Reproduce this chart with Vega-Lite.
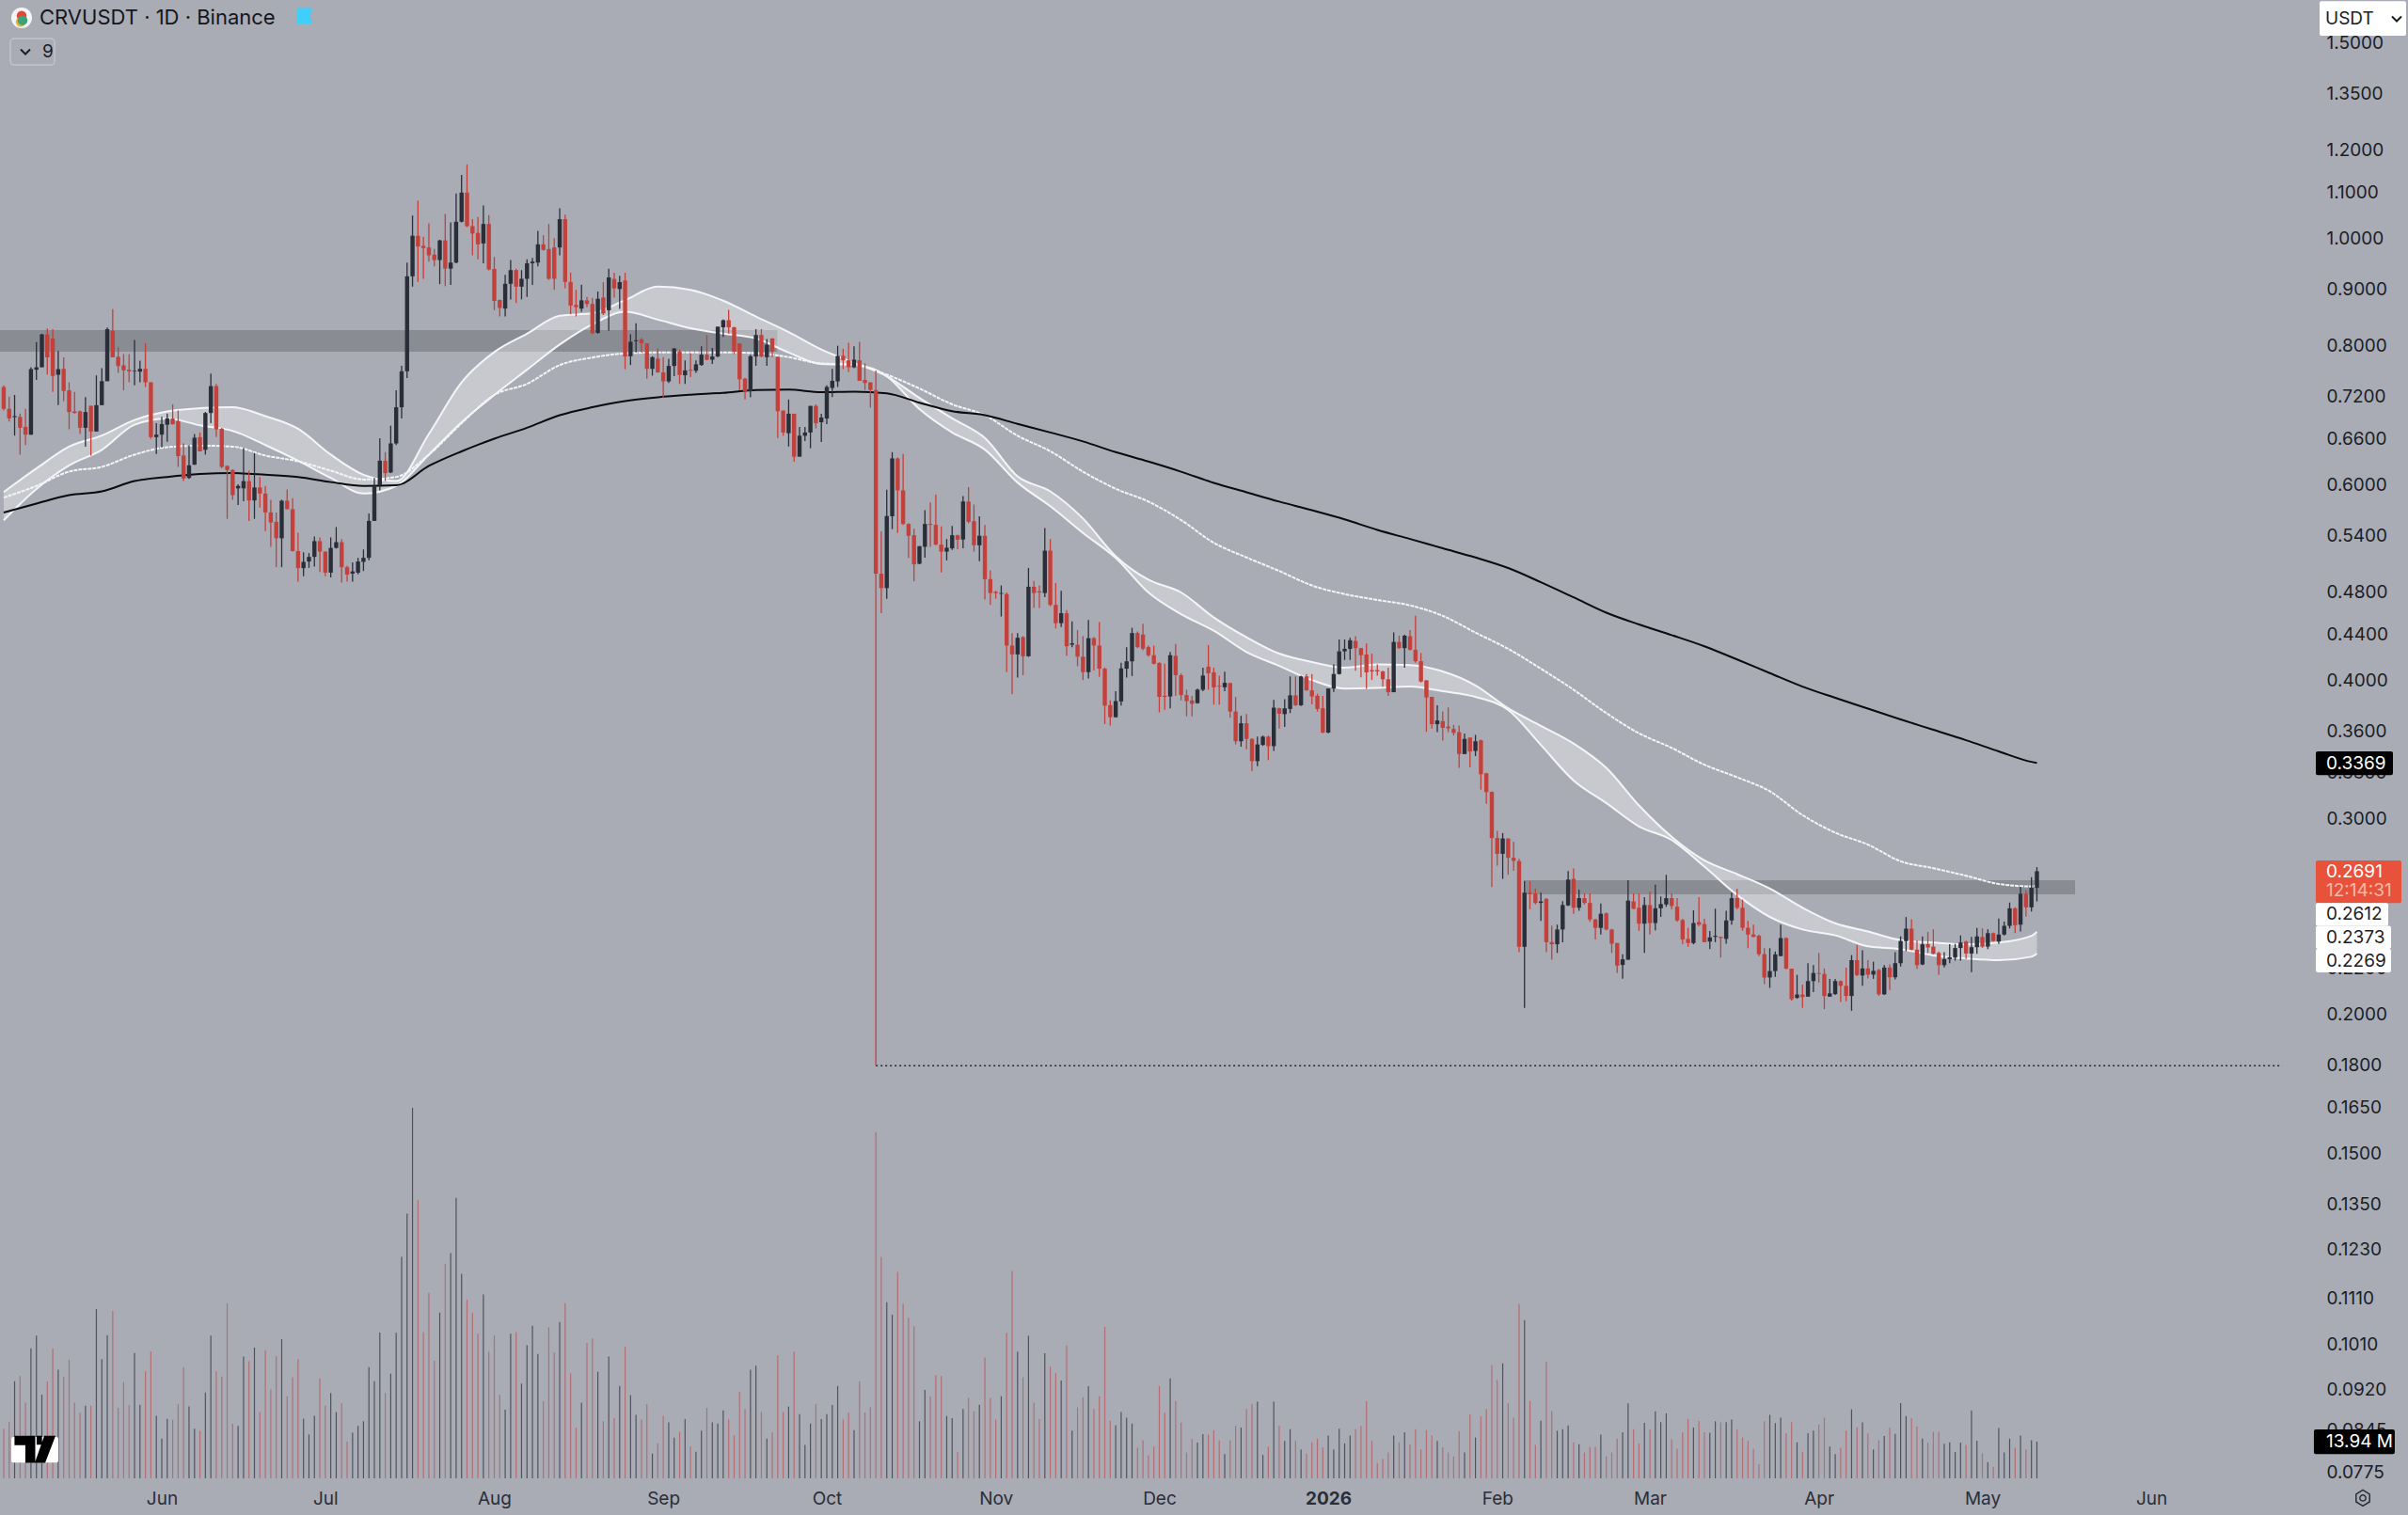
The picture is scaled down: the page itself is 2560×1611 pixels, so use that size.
{"$schema":"https://vega.github.io/schema/vega-lite/v6.json","width":2560,"height":1611,"autosize":"none","padding":0,"background":"#a9acb5","config":{"view":{"stroke":null},"font":"Inter","text":{"font":"Inter"}},
"datasets":{"candles":[
{"d":"2025-05-03","o":0.7341,"h":0.7366,"l":0.6994,"c":0.7017,"v":18.9},
{"d":"2025-05-04","o":0.7017,"h":0.7199,"l":0.6834,"c":0.688,"v":21.4},
{"d":"2025-05-05","o":0.6898,"h":0.7222,"l":0.6639,"c":0.6912,"v":36.9},
{"d":"2025-05-06","o":0.6902,"h":0.6948,"l":0.6382,"c":0.6747,"v":38.9},
{"d":"2025-05-07","o":0.676,"h":0.7017,"l":0.651,"c":0.6652,"v":28.8},
{"d":"2025-05-08","o":0.6652,"h":0.7649,"l":0.6652,"c":0.7619,"v":49.4},
{"d":"2025-05-09","o":0.761,"h":0.8058,"l":0.745,"c":0.7649,"v":54.2},
{"d":"2025-05-10","o":0.7649,"h":0.8199,"l":0.7649,"c":0.8188,"v":31.8},
{"d":"2025-05-11","o":0.8188,"h":0.8288,"l":0.7536,"c":0.7808,"v":36.8},
{"d":"2025-05-12","o":0.8121,"h":0.8277,"l":0.7268,"c":0.7512,"v":49.3},
{"d":"2025-05-13","o":0.7531,"h":0.7912,"l":0.7071,"c":0.7619,"v":41.3},
{"d":"2025-05-14","o":0.7624,"h":0.7808,"l":0.7131,"c":0.7283,"v":38.7},
{"d":"2025-05-15","o":0.7292,"h":0.7414,"l":0.6725,"c":0.6971,"v":45.1},
{"d":"2025-05-16","o":0.698,"h":0.7268,"l":0.6948,"c":0.6957,"v":28.8},
{"d":"2025-05-17","o":0.698,"h":0.6994,"l":0.6661,"c":0.6747,"v":25},
{"d":"2025-05-18","o":0.6747,"h":0.719,"l":0.6489,"c":0.6971,"v":27.6},
{"d":"2025-05-19","o":0.7062,"h":0.7062,"l":0.637,"c":0.6695,"v":27.6},
{"d":"2025-05-20","o":0.6695,"h":0.7521,"l":0.6695,"c":0.7071,"v":64.3},
{"d":"2025-05-21","o":0.7071,"h":0.7634,"l":0.7071,"c":0.7431,"v":45.3},
{"d":"2025-05-22","o":0.7431,"h":0.8305,"l":0.7431,"c":0.8277,"v":54.4},
{"d":"2025-05-23","o":0.8251,"h":0.8627,"l":0.7808,"c":0.7808,"v":63.6},
{"d":"2025-05-24","o":0.7818,"h":0.7975,"l":0.756,"c":0.7668,"v":26.8},
{"d":"2025-05-25","o":0.7678,"h":0.786,"l":0.7292,"c":0.76,"v":36.6},
{"d":"2025-05-26","o":0.761,"h":0.786,"l":0.7414,"c":0.7585,"v":27.9},
{"d":"2025-05-27","o":0.7585,"h":0.8095,"l":0.7366,"c":0.7595,"v":47.6},
{"d":"2025-05-28","o":0.758,"h":0.7756,"l":0.7414,"c":0.7624,"v":28},
{"d":"2025-05-29","o":0.7624,"h":0.8043,"l":0.7341,"c":0.7414,"v":40.7},
{"d":"2025-05-30","o":0.7414,"h":0.7414,"l":0.6596,"c":0.6618,"v":48.2},
{"d":"2025-05-31","o":0.6618,"h":0.6811,"l":0.6391,"c":0.6652,"v":23.8},
{"d":"2025-06-01","o":0.6652,"h":0.6902,"l":0.6477,"c":0.6798,"v":15.1},
{"d":"2025-06-02","o":0.679,"h":0.6948,"l":0.6553,"c":0.688,"v":22.6},
{"d":"2025-06-03","o":0.688,"h":0.7085,"l":0.679,"c":0.6798,"v":22.3},
{"d":"2025-06-04","o":0.6843,"h":0.6994,"l":0.6222,"c":0.6362,"v":28.2},
{"d":"2025-06-05","o":0.637,"h":0.6532,"l":0.6041,"c":0.6073,"v":42.3},
{"d":"2025-06-06","o":0.6081,"h":0.651,"l":0.6069,"c":0.6242,"v":27.3},
{"d":"2025-06-07","o":0.625,"h":0.6661,"l":0.625,"c":0.661,"v":18.9},
{"d":"2025-06-08","o":0.6618,"h":0.6682,"l":0.6425,"c":0.6425,"v":18.1},
{"d":"2025-06-09","o":0.6446,"h":0.6971,"l":0.6382,"c":0.6957,"v":32.6},
{"d":"2025-06-10","o":0.6957,"h":0.7551,"l":0.6811,"c":0.7356,"v":54.2},
{"d":"2025-06-11","o":0.7356,"h":0.739,"l":0.6618,"c":0.6725,"v":40.7},
{"d":"2025-06-12","o":0.6734,"h":0.6747,"l":0.6202,"c":0.6222,"v":38.7},
{"d":"2025-06-13","o":0.6234,"h":0.6242,"l":0.5587,"c":0.6182,"v":66.6},
{"d":"2025-06-14","o":0.6182,"h":0.619,"l":0.5812,"c":0.5868,"v":20.7},
{"d":"2025-06-15","o":0.5951,"h":0.6001,"l":0.5748,"c":0.5981,"v":19.9},
{"d":"2025-06-16","o":0.5951,"h":0.6468,"l":0.5793,"c":0.6041,"v":46.3},
{"d":"2025-06-17","o":0.6041,"h":0.6174,"l":0.5563,"c":0.5804,"v":44.5},
{"d":"2025-06-18","o":0.5804,"h":0.6403,"l":0.5587,"c":0.5962,"v":49.7},
{"d":"2025-06-19","o":0.5962,"h":0.6093,"l":0.5718,"c":0.5887,"v":25.2},
{"d":"2025-06-20","o":0.5887,"h":0.5981,"l":0.5447,"c":0.5661,"v":48.7},
{"d":"2025-06-21","o":0.5661,"h":0.5812,"l":0.5271,"c":0.5545,"v":33.8},
{"d":"2025-06-22","o":0.5552,"h":0.5661,"l":0.5054,"c":0.5366,"v":46.4},
{"d":"2025-06-23","o":0.5366,"h":0.5812,"l":0.5054,"c":0.58,"v":52.9},
{"d":"2025-06-24","o":0.58,"h":0.5936,"l":0.5699,"c":0.5699,"v":31.2},
{"d":"2025-06-25","o":0.5699,"h":0.583,"l":0.522,"c":0.5226,"v":38.4},
{"d":"2025-06-26","o":0.5226,"h":0.5429,"l":0.4905,"c":0.5044,"v":45.3},
{"d":"2025-06-27","o":0.5044,"h":0.5213,"l":0.4961,"c":0.511,"v":22.6},
{"d":"2025-06-28","o":0.5114,"h":0.5203,"l":0.5047,"c":0.5163,"v":16.7},
{"d":"2025-06-29","o":0.5163,"h":0.5387,"l":0.506,"c":0.5334,"v":23.8},
{"d":"2025-06-30","o":0.5334,"h":0.5376,"l":0.5004,"c":0.522,"v":38},
{"d":"2025-07-01","o":0.522,"h":0.522,"l":0.4961,"c":0.4997,"v":27.6},
{"d":"2025-07-02","o":0.4997,"h":0.5376,"l":0.4948,"c":0.526,"v":32.4},
{"d":"2025-07-03","o":0.526,"h":0.5492,"l":0.5253,"c":0.5323,"v":25.2},
{"d":"2025-07-04","o":0.5323,"h":0.5358,"l":0.4895,"c":0.5054,"v":28.5},
{"d":"2025-07-05","o":0.5054,"h":0.507,"l":0.4905,"c":0.4977,"v":13.9},
{"d":"2025-07-06","o":0.4987,"h":0.5104,"l":0.4905,"c":0.501,"v":17.3},
{"d":"2025-07-07","o":0.4997,"h":0.5153,"l":0.498,"c":0.5114,"v":19.9},
{"d":"2025-07-08","o":0.511,"h":0.5243,"l":0.5014,"c":0.5153,"v":21.7},
{"d":"2025-07-09","o":0.5153,"h":0.565,"l":0.5127,"c":0.5563,"v":42.3},
{"d":"2025-07-10","o":0.5563,"h":0.6081,"l":0.5563,"c":0.5981,"v":36.9},
{"d":"2025-07-11","o":0.5989,"h":0.6604,"l":0.5925,"c":0.6302,"v":55.4},
{"d":"2025-07-12","o":0.6302,"h":0.6416,"l":0.6041,"c":0.6142,"v":32.4},
{"d":"2025-07-13","o":0.615,"h":0.6777,"l":0.6142,"c":0.6532,"v":39.8},
{"d":"2025-07-14","o":0.6532,"h":0.7292,"l":0.651,"c":0.704,"v":55.3},
{"d":"2025-07-15","o":0.704,"h":0.7673,"l":0.688,"c":0.7585,"v":84.2},
{"d":"2025-07-16","o":0.7585,"h":0.9502,"l":0.7478,"c":0.9236,"v":100.6},
{"d":"2025-07-17","o":0.9236,"h":1.0477,"l":0.904,"c":1.0045,"v":140.8},
{"d":"2025-07-18","o":1.0045,"h":1.0806,"l":0.9129,"c":0.9824,"v":105.9},
{"d":"2025-07-19","o":0.9837,"h":1.0026,"l":0.9188,"c":0.9793,"v":55.6},
{"d":"2025-07-20","o":0.9805,"h":1.0308,"l":0.9521,"c":0.9647,"v":70.5},
{"d":"2025-07-21","o":0.966,"h":0.9773,"l":0.9426,"c":0.9552,"v":44.7},
{"d":"2025-07-22","o":0.9552,"h":0.9963,"l":0.9087,"c":0.995,"v":63},
{"d":"2025-07-23","o":0.995,"h":1.0511,"l":0.9052,"c":0.9384,"v":81.6},
{"d":"2025-07-24","o":0.9384,"h":1.0328,"l":0.907,"c":0.9502,"v":85.6},
{"d":"2025-07-25","o":0.9502,"h":1.0965,"l":0.9489,"c":1.0342,"v":106.6},
{"d":"2025-07-26","o":1.0342,"h":1.1397,"l":1.0328,"c":1.0986,"v":77.7},
{"d":"2025-07-27","o":1.0986,"h":1.1648,"l":1.0227,"c":1.0247,"v":67.9},
{"d":"2025-07-28","o":1.0247,"h":1.0396,"l":0.9647,"c":1.0092,"v":63},
{"d":"2025-07-29","o":1.0105,"h":1.0443,"l":0.9565,"c":0.9868,"v":55},
{"d":"2025-07-30","o":0.9887,"h":1.0698,"l":0.9489,"c":1.0294,"v":69.9},
{"d":"2025-07-31","o":1.0294,"h":1.0484,"l":0.9349,"c":0.9367,"v":48.2},
{"d":"2025-08-01","o":0.9378,"h":0.9615,"l":0.861,"c":0.8776,"v":54.2},
{"d":"2025-08-02","o":0.8793,"h":0.8804,"l":0.8499,"c":0.8649,"v":31.8},
{"d":"2025-08-03","o":0.8638,"h":0.9266,"l":0.8499,"c":0.9093,"v":26.1},
{"d":"2025-08-04","o":0.9093,"h":0.9552,"l":0.8804,"c":0.9355,"v":55},
{"d":"2025-08-05","o":0.9355,"h":0.9384,"l":0.8737,"c":0.904,"v":55.6},
{"d":"2025-08-06","o":0.904,"h":0.9355,"l":0.8804,"c":0.9188,"v":36},
{"d":"2025-08-07","o":0.9188,"h":0.9565,"l":0.885,"c":0.9489,"v":50.6},
{"d":"2025-08-08","o":0.9489,"h":0.9597,"l":0.907,"c":0.9521,"v":58},
{"d":"2025-08-09","o":0.9502,"h":1.0146,"l":0.9426,"c":0.9868,"v":47.3},
{"d":"2025-08-10","o":0.9868,"h":1.0058,"l":0.9741,"c":0.9754,"v":29.4},
{"d":"2025-08-11","o":0.9773,"h":1.0294,"l":0.917,"c":0.9188,"v":57.4},
{"d":"2025-08-12","o":0.9805,"h":0.9995,"l":0.898,"c":0.9188,"v":47.9},
{"d":"2025-08-13","o":0.9805,"h":1.0633,"l":0.9647,"c":1.0396,"v":59.4},
{"d":"2025-08-14","o":1.0396,"h":1.0497,"l":0.9011,"c":0.9129,"v":66.6},
{"d":"2025-08-15","o":0.9129,"h":0.9307,"l":0.8538,"c":0.8693,"v":39.9},
{"d":"2025-08-16","o":0.8704,"h":0.898,"l":0.8499,"c":0.8665,"v":19.3},
{"d":"2025-08-17","o":0.8638,"h":0.9076,"l":0.8582,"c":0.8787,"v":28.8},
{"d":"2025-08-18","o":0.8787,"h":0.885,"l":0.8665,"c":0.8721,"v":51.5},
{"d":"2025-08-19","o":0.8721,"h":0.8832,"l":0.8188,"c":0.8209,"v":53.2},
{"d":"2025-08-20","o":0.8214,"h":0.895,"l":0.8199,"c":0.8815,"v":40.5},
{"d":"2025-08-21","o":0.8838,"h":0.9125,"l":0.8524,"c":0.8551,"v":21.7},
{"d":"2025-08-22","o":0.8608,"h":0.938,"l":0.8248,"c":0.9215,"v":46.3},
{"d":"2025-08-23","o":0.9185,"h":0.9304,"l":0.8838,"c":0.9007,"v":22.9},
{"d":"2025-08-24","o":0.8996,"h":0.9245,"l":0.8634,"c":0.9125,"v":35.1},
{"d":"2025-08-25","o":0.9155,"h":0.9304,"l":0.7619,"c":0.7821,"v":50},
{"d":"2025-08-26","o":0.7826,"h":0.8192,"l":0.7685,"c":0.8064,"v":31.6},
{"d":"2025-08-27","o":0.8074,"h":0.8378,"l":0.7887,"c":0.8089,"v":24.1},
{"d":"2025-08-28","o":0.8104,"h":0.8129,"l":0.7887,"c":0.8038,"v":22.3},
{"d":"2025-08-29","o":0.8038,"h":0.8038,"l":0.747,"c":0.7624,"v":28.2},
{"d":"2025-08-30","o":0.7624,"h":0.7826,"l":0.7518,"c":0.7811,"v":9.4},
{"d":"2025-08-31","o":0.7786,"h":0.7952,"l":0.7559,"c":0.7569,"v":13.3},
{"d":"2025-09-01","o":0.7569,"h":0.7811,"l":0.7178,"c":0.7428,"v":23.7},
{"d":"2025-09-02","o":0.7428,"h":0.7786,"l":0.7404,"c":0.767,"v":21.3},
{"d":"2025-09-03","o":0.767,"h":0.7962,"l":0.7508,"c":0.7952,"v":15.5},
{"d":"2025-09-04","o":0.7901,"h":0.7937,"l":0.739,"c":0.7528,"v":17.7},
{"d":"2025-09-05","o":0.7523,"h":0.776,"l":0.739,"c":0.7599,"v":22.5},
{"d":"2025-09-06","o":0.7609,"h":0.7871,"l":0.7494,"c":0.7594,"v":12.1},
{"d":"2025-09-07","o":0.7594,"h":0.776,"l":0.7559,"c":0.7695,"v":10.1},
{"d":"2025-09-08","o":0.7685,"h":0.7987,"l":0.767,"c":0.7851,"v":18.1},
{"d":"2025-09-09","o":0.7851,"h":0.8178,"l":0.776,"c":0.777,"v":26.8},
{"d":"2025-09-10","o":0.777,"h":0.7962,"l":0.77,"c":0.7821,"v":21.3},
{"d":"2025-09-11","o":0.7821,"h":0.832,"l":0.7811,"c":0.832,"v":20.8},
{"d":"2025-09-12","o":0.8309,"h":0.8443,"l":0.8146,"c":0.8433,"v":25.8},
{"d":"2025-09-13","o":0.8433,"h":0.8615,"l":0.8201,"c":0.8309,"v":22.3},
{"d":"2025-09-14","o":0.8309,"h":0.832,"l":0.7861,"c":0.7901,"v":16.3},
{"d":"2025-09-15","o":0.8038,"h":0.8038,"l":0.7297,"c":0.746,"v":33},
{"d":"2025-09-16","o":0.747,"h":0.7484,"l":0.7154,"c":0.7277,"v":26.4},
{"d":"2025-09-17","o":0.7277,"h":0.7851,"l":0.7187,"c":0.7826,"v":41.3},
{"d":"2025-09-18","o":0.7821,"h":0.8279,"l":0.767,"c":0.8178,"v":42.8},
{"d":"2025-09-19","o":0.8178,"h":0.8279,"l":0.7811,"c":0.7821,"v":25.2},
{"d":"2025-09-20","o":0.7811,"h":0.811,"l":0.767,"c":0.8013,"v":15.1},
{"d":"2025-09-21","o":0.812,"h":0.812,"l":0.7811,"c":0.7901,"v":17.5},
{"d":"2025-09-22","o":0.7811,"h":0.7821,"l":0.6606,"c":0.6983,"v":46.7},
{"d":"2025-09-23","o":0.6992,"h":0.6992,"l":0.6637,"c":0.6682,"v":25.2},
{"d":"2025-09-24","o":0.6672,"h":0.7154,"l":0.649,"c":0.6947,"v":27.3},
{"d":"2025-09-25","o":0.6947,"h":0.6947,"l":0.629,"c":0.6355,"v":48.2},
{"d":"2025-09-26","o":0.6355,"h":0.676,"l":0.6355,"c":0.6637,"v":24.4},
{"d":"2025-09-27","o":0.6637,"h":0.676,"l":0.6563,"c":0.6682,"v":12.7},
{"d":"2025-09-28","o":0.6682,"h":0.706,"l":0.6467,"c":0.706,"v":20.8},
{"d":"2025-09-29","o":0.706,"h":0.7082,"l":0.6738,"c":0.681,"v":28.2},
{"d":"2025-09-30","o":0.6825,"h":0.6947,"l":0.6551,"c":0.6892,"v":22.5},
{"d":"2025-10-01","o":0.6878,"h":0.7367,"l":0.68,"c":0.7343,"v":24.4},
{"d":"2025-10-02","o":0.7328,"h":0.7624,"l":0.7192,"c":0.7437,"v":27.9},
{"d":"2025-10-03","o":0.7428,"h":0.7998,"l":0.7343,"c":0.7831,"v":35.1},
{"d":"2025-10-04","o":0.7831,"h":0.7947,"l":0.7619,"c":0.776,"v":22.3},
{"d":"2025-10-05","o":0.776,"h":0.8049,"l":0.7574,"c":0.7649,"v":25},
{"d":"2025-10-06","o":0.7649,"h":0.7987,"l":0.7634,"c":0.777,"v":18.3},
{"d":"2025-10-07","o":0.776,"h":0.8064,"l":0.7437,"c":0.7437,"v":36.8},
{"d":"2025-10-08","o":0.745,"h":0.771,"l":0.7297,"c":0.7404,"v":25},
{"d":"2025-10-09","o":0.7413,"h":0.7413,"l":0.7036,"c":0.7297,"v":27},
{"d":"2025-10-10","o":0.7297,"h":0.7597,"l":0.1798,"c":0.4986,"v":131.6},
{"d":"2025-10-11","o":0.4986,"h":0.5444,"l":0.4594,"c":0.484,"v":84.2},
{"d":"2025-10-12","o":0.484,"h":0.5934,"l":0.4734,"c":0.5619,"v":66.9},
{"d":"2025-10-13","o":0.5616,"h":0.6415,"l":0.5469,"c":0.6332,"v":62.2},
{"d":"2025-10-14","o":0.6332,"h":0.6345,"l":0.5426,"c":0.5926,"v":78.5},
{"d":"2025-10-15","o":0.5926,"h":0.639,"l":0.5517,"c":0.5528,"v":66.3},
{"d":"2025-10-16","o":0.5528,"h":0.5535,"l":0.5152,"c":0.5394,"v":61},
{"d":"2025-10-17","o":0.54,"h":0.5473,"l":0.4907,"c":0.5084,"v":57.8},
{"d":"2025-10-18","o":0.509,"h":0.5279,"l":0.5084,"c":0.5279,"v":21.7},
{"d":"2025-10-19","o":0.5272,"h":0.5687,"l":0.5154,"c":0.5528,"v":33.6},
{"d":"2025-10-20","o":0.5528,"h":0.5779,"l":0.5272,"c":0.5517,"v":31.2},
{"d":"2025-10-21","o":0.5517,"h":0.5876,"l":0.5289,"c":0.5296,"v":39.2},
{"d":"2025-10-22","o":0.5296,"h":0.5499,"l":0.4998,"c":0.522,"v":38.9},
{"d":"2025-10-23","o":0.522,"h":0.5358,"l":0.5126,"c":0.5262,"v":23.7},
{"d":"2025-10-24","o":0.5255,"h":0.5506,"l":0.5238,"c":0.54,"v":22.9},
{"d":"2025-10-25","o":0.54,"h":0.5408,"l":0.5245,"c":0.5351,"v":10},
{"d":"2025-10-26","o":0.5351,"h":0.5856,"l":0.5255,"c":0.579,"v":26.4},
{"d":"2025-10-27","o":0.579,"h":0.5965,"l":0.5535,"c":0.5552,"v":30.6},
{"d":"2025-10-28","o":0.5559,"h":0.5754,"l":0.522,"c":0.5289,"v":25.5},
{"d":"2025-10-29","o":0.5289,"h":0.5616,"l":0.5118,"c":0.5394,"v":28},
{"d":"2025-10-30","o":0.5394,"h":0.5517,"l":0.4727,"c":0.493,"v":45.9},
{"d":"2025-10-31","o":0.493,"h":0.502,"l":0.4674,"c":0.479,"v":30.6},
{"d":"2025-11-01","o":0.4803,"h":0.4812,"l":0.4734,"c":0.479,"v":22.3},
{"d":"2025-11-02","o":0.4783,"h":0.4866,"l":0.4563,"c":0.479,"v":31.2},
{"d":"2025-11-03","o":0.478,"h":0.4796,"l":0.4066,"c":0.4296,"v":55.3},
{"d":"2025-11-04","o":0.4296,"h":0.4409,"l":0.3884,"c":0.4218,"v":78.8},
{"d":"2025-11-05","o":0.4218,"h":0.4409,"l":0.4021,"c":0.4366,"v":48.2},
{"d":"2025-11-06","o":0.4372,"h":0.4381,"l":0.404,"c":0.4202,"v":38.4},
{"d":"2025-11-07","o":0.4202,"h":0.5046,"l":0.4197,"c":0.4853,"v":54.2},
{"d":"2025-11-08","o":0.4853,"h":0.4913,"l":0.4645,"c":0.479,"v":28.8},
{"d":"2025-11-09","o":0.4807,"h":0.4866,"l":0.4645,"c":0.4796,"v":22.5},
{"d":"2025-11-10","o":0.479,"h":0.5481,"l":0.475,"c":0.523,"v":47.5},
{"d":"2025-11-11","o":0.523,"h":0.5358,"l":0.466,"c":0.4674,"v":42.5},
{"d":"2025-11-12","o":0.4674,"h":0.4892,"l":0.4451,"c":0.45,"v":39.9},
{"d":"2025-11-13","o":0.45,"h":0.4812,"l":0.4465,"c":0.4594,"v":37.2},
{"d":"2025-11-14","o":0.4594,"h":0.4623,"l":0.4204,"c":0.429,"v":50.5},
{"d":"2025-11-15","o":0.4304,"h":0.4516,"l":0.4282,"c":0.4316,"v":18.1},
{"d":"2025-11-16","o":0.4304,"h":0.4437,"l":0.4116,"c":0.4198,"v":27},
{"d":"2025-11-17","o":0.4198,"h":0.4381,"l":0.3999,"c":0.4066,"v":30.8},
{"d":"2025-11-18","o":0.4066,"h":0.4531,"l":0.4012,"c":0.4362,"v":35},
{"d":"2025-11-19","o":0.4362,"h":0.4375,"l":0.4079,"c":0.4296,"v":26.4},
{"d":"2025-11-20","o":0.4296,"h":0.451,"l":0.4026,"c":0.4095,"v":31.2},
{"d":"2025-11-21","o":0.4095,"h":0.4105,"l":0.3651,"c":0.3793,"v":57.6},
{"d":"2025-11-22","o":0.3797,"h":0.3834,"l":0.364,"c":0.3703,"v":21.9},
{"d":"2025-11-23","o":0.3703,"h":0.3908,"l":0.3703,"c":0.3829,"v":20.2},
{"d":"2025-11-24","o":0.3826,"h":0.4145,"l":0.3793,"c":0.4098,"v":25.2},
{"d":"2025-11-25","o":0.4095,"h":0.4282,"l":0.4021,"c":0.4158,"v":23.1},
{"d":"2025-11-26","o":0.4158,"h":0.4457,"l":0.4033,"c":0.4409,"v":20.8},
{"d":"2025-11-27","o":0.4409,"h":0.4423,"l":0.4273,"c":0.4282,"v":11.6},
{"d":"2025-11-28","o":0.4395,"h":0.4495,"l":0.4254,"c":0.4268,"v":14.5},
{"d":"2025-11-29","o":0.4282,"h":0.4296,"l":0.4198,"c":0.4211,"v":8.8},
{"d":"2025-11-30","o":0.4211,"h":0.4296,"l":0.4131,"c":0.4137,"v":12.1},
{"d":"2025-12-01","o":0.4144,"h":0.415,"l":0.3741,"c":0.3863,"v":35.1},
{"d":"2025-12-02","o":0.3871,"h":0.4137,"l":0.376,"c":0.3863,"v":25},
{"d":"2025-12-03","o":0.3866,"h":0.424,"l":0.3772,"c":0.4211,"v":38},
{"d":"2025-12-04","o":0.4206,"h":0.431,"l":0.3871,"c":0.404,"v":29.4},
{"d":"2025-12-05","o":0.404,"h":0.4053,"l":0.3834,"c":0.3877,"v":21.2},
{"d":"2025-12-06","o":0.3877,"h":0.3921,"l":0.371,"c":0.3829,"v":9.8},
{"d":"2025-12-07","o":0.3834,"h":0.3871,"l":0.371,"c":0.3808,"v":14.9},
{"d":"2025-12-08","o":0.3813,"h":0.3929,"l":0.3808,"c":0.3921,"v":13.6},
{"d":"2025-12-09","o":0.392,"h":0.4104,"l":0.3908,"c":0.4037,"v":16.8},
{"d":"2025-12-10","o":0.4112,"h":0.4301,"l":0.392,"c":0.4056,"v":16.6},
{"d":"2025-12-11","o":0.4064,"h":0.4104,"l":0.3801,"c":0.394,"v":18.3},
{"d":"2025-12-12","o":0.3952,"h":0.4037,"l":0.3801,"c":0.3945,"v":14.5},
{"d":"2025-12-13","o":0.394,"h":0.4069,"l":0.3908,"c":0.3977,"v":9.2},
{"d":"2025-12-14","o":0.3975,"h":0.3977,"l":0.3698,"c":0.3747,"v":14.5},
{"d":"2025-12-15","o":0.3747,"h":0.3863,"l":0.35,"c":0.3523,"v":19.9},
{"d":"2025-12-16","o":0.3523,"h":0.3714,"l":0.3484,"c":0.3657,"v":19.3},
{"d":"2025-12-17","o":0.3657,"h":0.3727,"l":0.3465,"c":0.354,"v":26.4},
{"d":"2025-12-18","o":0.354,"h":0.3546,"l":0.3312,"c":0.3381,"v":28.2},
{"d":"2025-12-19","o":0.3381,"h":0.3557,"l":0.3345,"c":0.35,"v":29.1},
{"d":"2025-12-20","o":0.3496,"h":0.3565,"l":0.349,"c":0.3557,"v":8.9},
{"d":"2025-12-21","o":0.3557,"h":0.3565,"l":0.3388,"c":0.3488,"v":12.1},
{"d":"2025-12-22","o":0.3488,"h":0.3838,"l":0.3453,"c":0.3777,"v":29.1},
{"d":"2025-12-23","o":0.3772,"h":0.3777,"l":0.3617,"c":0.373,"v":19.9},
{"d":"2025-12-24","o":0.3727,"h":0.3845,"l":0.363,"c":0.3772,"v":14.2},
{"d":"2025-12-25","o":0.3767,"h":0.403,"l":0.3735,"c":0.3875,"v":18.7},
{"d":"2025-12-26","o":0.3875,"h":0.403,"l":0.3791,"c":0.3796,"v":14.2},
{"d":"2025-12-27","o":0.3796,"h":0.4037,"l":0.3791,"c":0.403,"v":11},
{"d":"2025-12-28","o":0.403,"h":0.405,"l":0.3912,"c":0.3915,"v":9.4},
{"d":"2025-12-29","o":0.3915,"h":0.405,"l":0.3803,"c":0.3866,"v":13.7},
{"d":"2025-12-30","o":0.3871,"h":0.3888,"l":0.3747,"c":0.3767,"v":15.1},
{"d":"2025-12-31","o":0.3772,"h":0.3871,"l":0.3582,"c":0.3587,"v":11.8},
{"d":"2026-01-01","o":0.3587,"h":0.3932,"l":0.3582,"c":0.393,"v":16.3},
{"d":"2026-01-02","o":0.393,"h":0.4131,"l":0.3903,"c":0.405,"v":11},
{"d":"2026-01-03","o":0.405,"h":0.435,"l":0.4045,"c":0.4245,"v":18.9},
{"d":"2026-01-04","o":0.4245,"h":0.435,"l":0.417,"c":0.4267,"v":13.3},
{"d":"2026-01-05","o":0.4267,"h":0.4365,"l":0.417,"c":0.4343,"v":16.3},
{"d":"2026-01-06","o":0.4337,"h":0.438,"l":0.4078,"c":0.4273,"v":18.7},
{"d":"2026-01-07","o":0.4273,"h":0.4273,"l":0.4023,"c":0.4211,"v":19.9},
{"d":"2026-01-08","o":0.4217,"h":0.4315,"l":0.3927,"c":0.4064,"v":29.4},
{"d":"2026-01-09","o":0.4083,"h":0.4225,"l":0.4,"c":0.4072,"v":14.2},
{"d":"2026-01-10","o":0.4083,"h":0.4131,"l":0.4037,"c":0.4072,"v":5.8},
{"d":"2026-01-11","o":0.4072,"h":0.4078,"l":0.3945,"c":0.4006,"v":7.4},
{"d":"2026-01-12","o":0.4006,"h":0.4104,"l":0.3871,"c":0.39,"v":9.8},
{"d":"2026-01-13","o":0.39,"h":0.4414,"l":0.39,"c":0.4329,"v":16.3},
{"d":"2026-01-14","o":0.4329,"h":0.4385,"l":0.4267,"c":0.4273,"v":13.7},
{"d":"2026-01-15","o":0.4273,"h":0.4394,"l":0.4104,"c":0.4385,"v":17.5},
{"d":"2026-01-16","o":0.438,"h":0.4436,"l":0.4253,"c":0.4259,"v":13},
{"d":"2026-01-17","o":0.4259,"h":0.4569,"l":0.4145,"c":0.4159,"v":18.7},
{"d":"2026-01-18","o":0.4159,"h":0.423,"l":0.398,"c":0.3987,"v":11},
{"d":"2026-01-19","o":0.3997,"h":0.3997,"l":0.3592,"c":0.3858,"v":18.3},
{"d":"2026-01-20","o":0.3863,"h":0.3863,"l":0.3617,"c":0.365,"v":16.3},
{"d":"2026-01-21","o":0.365,"h":0.3796,"l":0.359,"c":0.3678,"v":14.2},
{"d":"2026-01-22","o":0.3673,"h":0.3747,"l":0.3528,"c":0.3623,"v":11.8},
{"d":"2026-01-23","o":0.3632,"h":0.3779,"l":0.359,"c":0.3618,"v":9.8},
{"d":"2026-01-24","o":0.3614,"h":0.3645,"l":0.3565,"c":0.3585,"v":8.3},
{"d":"2026-01-25","o":0.359,"h":0.364,"l":0.3334,"c":0.3431,"v":17.9},
{"d":"2026-01-26","o":0.3431,"h":0.358,"l":0.3431,"c":0.354,"v":9.8},
{"d":"2026-01-27","o":0.355,"h":0.355,"l":0.3338,"c":0.3449,"v":24.4},
{"d":"2026-01-28","o":0.3453,"h":0.357,"l":0.3416,"c":0.3523,"v":15.5},
{"d":"2026-01-29","o":0.353,"h":0.3535,"l":0.3187,"c":0.329,"v":23.7},
{"d":"2026-01-30","o":0.3297,"h":0.3301,"l":0.3094,"c":0.3171,"v":26.4},
{"d":"2026-01-31","o":0.3172,"h":0.3176,"l":0.2604,"c":0.2883,"v":43.1},
{"d":"2026-02-01","o":0.2883,"h":0.2926,"l":0.2722,"c":0.279,"v":37.4},
{"d":"2026-02-02","o":0.279,"h":0.2913,"l":0.2649,"c":0.288,"v":43.7},
{"d":"2026-02-03","o":0.288,"h":0.288,"l":0.2671,"c":0.2767,"v":28.6},
{"d":"2026-02-04","o":0.2767,"h":0.2861,"l":0.2694,"c":0.275,"v":23.1},
{"d":"2026-02-05","o":0.2748,"h":0.2761,"l":0.2275,"c":0.2301,"v":66.3},
{"d":"2026-02-06","o":0.2301,"h":0.2637,"l":0.2027,"c":0.2574,"v":60.1},
{"d":"2026-02-07","o":0.2574,"h":0.2637,"l":0.2487,"c":0.2567,"v":29.4},
{"d":"2026-02-08","o":0.257,"h":0.2596,"l":0.2512,"c":0.252,"v":12.7},
{"d":"2026-02-09","o":0.252,"h":0.2574,"l":0.2428,"c":0.2528,"v":21.9},
{"d":"2026-02-10","o":0.2541,"h":0.2545,"l":0.2275,"c":0.2323,"v":44.3},
{"d":"2026-02-11","o":0.2323,"h":0.2404,"l":0.224,"c":0.2313,"v":25.6},
{"d":"2026-02-12","o":0.2313,"h":0.2409,"l":0.2272,"c":0.2385,"v":18.1},
{"d":"2026-02-13","o":0.2385,"h":0.2529,"l":0.2323,"c":0.2509,"v":18.7},
{"d":"2026-02-14","o":0.2507,"h":0.2692,"l":0.2504,"c":0.2645,"v":20.1},
{"d":"2026-02-15","o":0.2649,"h":0.2706,"l":0.2464,"c":0.2495,"v":13.7},
{"d":"2026-02-16","o":0.2495,"h":0.259,"l":0.2479,"c":0.2545,"v":13},
{"d":"2026-02-17","o":0.2545,"h":0.257,"l":0.2512,"c":0.252,"v":9.8},
{"d":"2026-02-18","o":0.252,"h":0.257,"l":0.2423,"c":0.2435,"v":11.9},
{"d":"2026-02-19","o":0.2435,"h":0.2438,"l":0.2336,"c":0.2393,"v":12.1},
{"d":"2026-02-20","o":0.2393,"h":0.2517,"l":0.236,"c":0.2464,"v":16.6},
{"d":"2026-02-21","o":0.2466,"h":0.2471,"l":0.2381,"c":0.2385,"v":8.3},
{"d":"2026-02-22","o":0.2385,"h":0.2388,"l":0.2272,"c":0.2316,"v":9.8},
{"d":"2026-02-23","o":0.2319,"h":0.2319,"l":0.218,"c":0.2213,"v":15.1},
{"d":"2026-02-24","o":0.2216,"h":0.2265,"l":0.2154,"c":0.2242,"v":17.5},
{"d":"2026-02-25","o":0.224,"h":0.2641,"l":0.224,"c":0.2532,"v":28.5},
{"d":"2026-02-26","o":0.2528,"h":0.257,"l":0.2487,"c":0.249,"v":18.7},
{"d":"2026-02-27","o":0.2495,"h":0.257,"l":0.2378,"c":0.2414,"v":13.3},
{"d":"2026-02-28","o":0.2414,"h":0.255,"l":0.2272,"c":0.2509,"v":21.1},
{"d":"2026-03-01","o":0.2509,"h":0.2579,"l":0.236,"c":0.2417,"v":18.7},
{"d":"2026-03-02","o":0.2417,"h":0.2617,"l":0.2381,"c":0.2492,"v":25.5},
{"d":"2026-03-03","o":0.2492,"h":0.2554,"l":0.2448,"c":0.2514,"v":21.4},
{"d":"2026-03-04","o":0.2512,"h":0.2671,"l":0.25,"c":0.2545,"v":24.7},
{"d":"2026-03-05","o":0.2545,"h":0.257,"l":0.2487,"c":0.2504,"v":14.8},
{"d":"2026-03-06","o":0.25,"h":0.2545,"l":0.2423,"c":0.243,"v":11.3},
{"d":"2026-03-07","o":0.2432,"h":0.2438,"l":0.2313,"c":0.2336,"v":17.5},
{"d":"2026-03-08","o":0.2339,"h":0.2393,"l":0.2301,"c":0.2319,"v":22.6},
{"d":"2026-03-09","o":0.2319,"h":0.2482,"l":0.2313,"c":0.2417,"v":19.3},
{"d":"2026-03-10","o":0.2422,"h":0.255,"l":0.2401,"c":0.2409,"v":21.8},
{"d":"2026-03-11","o":0.2412,"h":0.2438,"l":0.2323,"c":0.2323,"v":17.5},
{"d":"2026-03-12","o":0.2326,"h":0.2378,"l":0.229,"c":0.2346,"v":17.3},
{"d":"2026-03-13","o":0.2349,"h":0.249,"l":0.2323,"c":0.2354,"v":21.7},
{"d":"2026-03-14","o":0.2349,"h":0.2349,"l":0.225,"c":0.2343,"v":21.3},
{"d":"2026-03-15","o":0.2339,"h":0.2479,"l":0.2316,"c":0.243,"v":21.4},
{"d":"2026-03-16","o":0.243,"h":0.2574,"l":0.2409,"c":0.2545,"v":22.3},
{"d":"2026-03-17","o":0.2545,"h":0.2596,"l":0.2487,"c":0.2495,"v":18.7},
{"d":"2026-03-18","o":0.2495,"h":0.2537,"l":0.2378,"c":0.2393,"v":15.5},
{"d":"2026-03-19","o":0.2393,"h":0.2428,"l":0.2294,"c":0.236,"v":14.2},
{"d":"2026-03-20","o":0.236,"h":0.2409,"l":0.2346,"c":0.2349,"v":11.2},
{"d":"2026-03-21","o":0.2354,"h":0.236,"l":0.2257,"c":0.2266,"v":5.4},
{"d":"2026-03-22","o":0.2266,"h":0.2294,"l":0.213,"c":0.2159,"v":21.7},
{"d":"2026-03-23","o":0.2159,"h":0.2294,"l":0.2113,"c":0.2188,"v":24.1},
{"d":"2026-03-24","o":0.2188,"h":0.2279,"l":0.2162,"c":0.2265,"v":21},
{"d":"2026-03-25","o":0.2257,"h":0.2409,"l":0.2257,"c":0.2343,"v":23.1},
{"d":"2026-03-26","o":0.2343,"h":0.2346,"l":0.2196,"c":0.2199,"v":17.2},
{"d":"2026-03-27","o":0.2199,"h":0.2199,"l":0.2058,"c":0.2064,"v":21.4},
{"d":"2026-03-28","o":0.207,"h":0.2171,"l":0.2066,"c":0.2084,"v":13.7},
{"d":"2026-03-29","o":0.2084,"h":0.2127,"l":0.2027,"c":0.2073,"v":10.1},
{"d":"2026-03-30","o":0.2075,"h":0.2224,"l":0.2075,"c":0.2143,"v":17.2},
{"d":"2026-03-31","o":0.2143,"h":0.2215,"l":0.2095,"c":0.2179,"v":18.1},
{"d":"2026-04-01","o":0.2179,"h":0.2272,"l":0.2136,"c":0.2175,"v":20.5},
{"d":"2026-04-02","o":0.2175,"h":0.22,"l":0.2022,"c":0.2078,"v":23.1},
{"d":"2026-04-03","o":0.2075,"h":0.2153,"l":0.2075,"c":0.2089,"v":12.1},
{"d":"2026-04-04","o":0.2086,"h":0.2153,"l":0.2082,"c":0.2143,"v":9.2},
{"d":"2026-04-05","o":0.2143,"h":0.2146,"l":0.2052,"c":0.2122,"v":11.6},
{"d":"2026-04-06","o":0.2122,"h":0.2203,"l":0.2055,"c":0.2078,"v":18.1},
{"d":"2026-04-07","o":0.2078,"h":0.2262,"l":0.2015,"c":0.2238,"v":26.2},
{"d":"2026-04-08","o":0.2238,"h":0.231,"l":0.2165,"c":0.217,"v":19.5},
{"d":"2026-04-09","o":0.2168,"h":0.2284,"l":0.2122,"c":0.22,"v":21.3},
{"d":"2026-04-10","o":0.22,"h":0.2238,"l":0.2155,"c":0.2172,"v":17.2},
{"d":"2026-04-11","o":0.2172,"h":0.2231,"l":0.2153,"c":0.2189,"v":11},
{"d":"2026-04-12","o":0.2193,"h":0.2198,"l":0.2079,"c":0.2085,"v":14.5},
{"d":"2026-04-13","o":0.2085,"h":0.2215,"l":0.2082,"c":0.2204,"v":16.1},
{"d":"2026-04-14","o":0.2204,"h":0.2219,"l":0.2104,"c":0.216,"v":19.3},
{"d":"2026-04-15","o":0.216,"h":0.2275,"l":0.215,"c":0.2224,"v":16.9},
{"d":"2026-04-16","o":0.2224,"h":0.2351,"l":0.2209,"c":0.2329,"v":28.6},
{"d":"2026-04-17","o":0.2328,"h":0.2447,"l":0.228,"c":0.2389,"v":23.7},
{"d":"2026-04-18","o":0.2389,"h":0.2436,"l":0.2284,"c":0.2287,"v":22.9},
{"d":"2026-04-19","o":0.2287,"h":0.2332,"l":0.2198,"c":0.2215,"v":19.7},
{"d":"2026-04-20","o":0.2218,"h":0.2351,"l":0.2215,"c":0.2313,"v":15.1},
{"d":"2026-04-21","o":0.2313,"h":0.2373,"l":0.2272,"c":0.2298,"v":13.6},
{"d":"2026-04-22","o":0.2302,"h":0.2386,"l":0.2265,"c":0.2268,"v":17.7},
{"d":"2026-04-23","o":0.2272,"h":0.2279,"l":0.217,"c":0.2215,"v":17.7},
{"d":"2026-04-24","o":0.2215,"h":0.2275,"l":0.2205,"c":0.2243,"v":13.1},
{"d":"2026-04-25","o":0.2243,"h":0.2313,"l":0.2224,"c":0.2252,"v":13.7},
{"d":"2026-04-26","o":0.225,"h":0.2315,"l":0.2236,"c":0.2295,"v":10},
{"d":"2026-04-27","o":0.2295,"h":0.2356,"l":0.2236,"c":0.2321,"v":13.6},
{"d":"2026-04-28","o":0.2326,"h":0.2331,"l":0.2243,"c":0.2269,"v":12.7},
{"d":"2026-04-29","o":0.2269,"h":0.2349,"l":0.2183,"c":0.2299,"v":25.8},
{"d":"2026-04-30","o":0.2299,"h":0.2393,"l":0.2268,"c":0.2351,"v":14.3},
{"d":"2026-05-01","o":0.2348,"h":0.2391,"l":0.2295,"c":0.2302,"v":9.5},
{"d":"2026-05-02","o":0.2302,"h":0.2386,"l":0.229,"c":0.2367,"v":6.2},
{"d":"2026-05-03","o":0.2367,"h":0.237,"l":0.2326,"c":0.2329,"v":4.4},
{"d":"2026-05-04","o":0.2326,"h":0.244,"l":0.2315,"c":0.236,"v":19.1},
{"d":"2026-05-05","o":0.236,"h":0.2424,"l":0.2356,"c":0.2403,"v":9.8},
{"d":"2026-05-06","o":0.2403,"h":0.2522,"l":0.239,"c":0.2492,"v":15.1},
{"d":"2026-05-07","o":0.2492,"h":0.2497,"l":0.2367,"c":0.2406,"v":11.6},
{"d":"2026-05-08","o":0.2409,"h":0.2605,"l":0.2375,"c":0.2568,"v":16.3},
{"d":"2026-05-09","o":0.2568,"h":0.2587,"l":0.2449,"c":0.2497,"v":11},
{"d":"2026-05-10","o":0.2497,"h":0.2658,"l":0.2475,"c":0.26,"v":14.5},
{"d":"2026-05-11","o":0.26,"h":0.2714,"l":0.2528,"c":0.2691,"v":13.94}
],
"ma":[
{"d":"2025-05-03","up":0.5906,"lo":0.557,"m3":0.5838,"m4":0.5661},
{"d":"2025-05-09","up":0.6201,"lo":0.5943,"m3":0.5981,"m4":0.5767},
{"d":"2025-05-15","up":0.6489,"lo":0.6242,"m3":0.6162,"m4":0.5868},
{"d":"2025-05-21","up":0.6639,"lo":0.6446,"m3":0.6222,"m4":0.5913},
{"d":"2025-05-27","up":0.6857,"lo":0.679,"m3":0.6382,"m4":0.6041},
{"d":"2025-06-02","up":0.698,"lo":0.688,"m3":0.6481,"m4":0.6093},
{"d":"2025-06-08","up":0.7026,"lo":0.6781,"m3":0.6502,"m4":0.613},
{"d":"2025-06-14","up":0.704,"lo":0.6704,"m3":0.6489,"m4":0.6142},
{"d":"2025-06-20","up":0.6912,"lo":0.651,"m3":0.637,"m4":0.6122},
{"d":"2025-06-26","up":0.6734,"lo":0.6302,"m3":0.6294,"m4":0.6093},
{"d":"2025-07-02","up":0.6382,"lo":0.6081,"m3":0.6173,"m4":0.6029},
{"d":"2025-07-08","up":0.6121,"lo":0.5887,"m3":0.6061,"m4":0.5981},
{"d":"2025-07-14","up":0.6042,"lo":0.5981,"m3":0.6093,"m4":0.5989},
{"d":"2025-07-20","up":0.6661,"lo":0.6382,"m3":0.6382,"m4":0.6234},
{"d":"2025-07-26","up":0.7414,"lo":0.6825,"m3":0.6811,"m4":0.6425},
{"d":"2025-08-01","up":0.7893,"lo":0.7222,"m3":0.7222,"m4":0.6596},
{"d":"2025-08-07","up":0.8199,"lo":0.761,"m3":0.739,"m4":0.6747},
{"d":"2025-08-13","up":0.851,"lo":0.8017,"m3":0.7683,"m4":0.6925},
{"d":"2025-08-19","up":0.8555,"lo":0.836,"m3":0.7805,"m4":0.704},
{"d":"2025-08-25","up":0.8792,"lo":0.858,"m3":0.7872,"m4":0.713},
{"d":"2025-08-31","up":0.9039,"lo":0.8443,"m3":0.7887,"m4":0.7187},
{"d":"2025-09-06","up":0.8981,"lo":0.8293,"m3":0.7887,"m4":0.7225},
{"d":"2025-09-12","up":0.8781,"lo":0.8201,"m3":0.7887,"m4":0.7254},
{"d":"2025-09-18","up":0.8497,"lo":0.812,"m3":0.7877,"m4":0.7297},
{"d":"2025-09-24","up":0.8228,"lo":0.7887,"m3":0.7811,"m4":0.7302},
{"d":"2025-09-30","up":0.7937,"lo":0.77,"m3":0.771,"m4":0.7263},
{"d":"2025-10-06","up":0.772,"lo":0.7685,"m3":0.7695,"m4":0.7272},
{"d":"2025-10-12","up":0.7508,"lo":0.7508,"m3":0.7533,"m4":0.7248},
{"d":"2025-10-18","up":0.7178,"lo":0.7014,"m3":0.7319,"m4":0.7107},
{"d":"2025-10-24","up":0.6881,"lo":0.6682,"m3":0.7083,"m4":0.6983},
{"d":"2025-10-30","up":0.6606,"lo":0.6448,"m3":0.6925,"m4":0.6925},
{"d":"2025-11-05","up":0.6101,"lo":0.6023,"m3":0.6637,"m4":0.6801},
{"d":"2025-11-11","up":0.5914,"lo":0.5735,"m3":0.6427,"m4":0.6682},
{"d":"2025-11-17","up":0.559,"lo":0.5426,"m3":0.616,"m4":0.6559},
{"d":"2025-11-23","up":0.517,"lo":0.5152,"m3":0.5946,"m4":0.6415},
{"d":"2025-11-29","up":0.4924,"lo":0.4796,"m3":0.579,"m4":0.6291},
{"d":"2025-12-05","up":0.4796,"lo":0.4585,"m3":0.5572,"m4":0.616},
{"d":"2025-12-11","up":0.4554,"lo":0.443,"m3":0.5316,"m4":0.6019},
{"d":"2025-12-17","up":0.4371,"lo":0.4239,"m3":0.5157,"m4":0.5903},
{"d":"2025-12-23","up":0.4225,"lo":0.4119,"m3":0.5014,"m4":0.579},
{"d":"2025-12-29","up":0.4152,"lo":0.4,"m3":0.4866,"m4":0.5687},
{"d":"2026-01-04","up":0.4104,"lo":0.393,"m3":0.478,"m4":0.558},
{"d":"2026-01-10","up":0.4131,"lo":0.3935,"m3":0.4722,"m4":0.546},
{"d":"2026-01-16","up":0.4125,"lo":0.3946,"m3":0.4669,"m4":0.5358},
{"d":"2026-01-22","up":0.4072,"lo":0.3908,"m3":0.4569,"m4":0.5256},
{"d":"2026-01-28","up":0.3956,"lo":0.3863,"m3":0.4413,"m4":0.5157},
{"d":"2026-02-03","up":0.3772,"lo":0.3759,"m3":0.4267,"m4":0.5045},
{"d":"2026-02-09","up":0.3638,"lo":0.3496,"m3":0.4095,"m4":0.4899},
{"d":"2026-02-15","up":0.3507,"lo":0.3248,"m3":0.392,"m4":0.4748},
{"d":"2026-02-21","up":0.3334,"lo":0.31,"m3":0.3735,"m4":0.4599},
{"d":"2026-02-27","up":0.3084,"lo":0.2953,"m3":0.3582,"m4":0.4488},
{"d":"2026-03-05","up":0.289,"lo":0.2871,"m3":0.3475,"m4":0.439},
{"d":"2026-03-11","up":0.2752,"lo":0.2717,"m3":0.3356,"m4":0.429},
{"d":"2026-03-17","up":0.2675,"lo":0.2562,"m3":0.327,"m4":0.4174},
{"d":"2026-03-23","up":0.2596,"lo":0.2448,"m3":0.3176,"m4":0.4058},
{"d":"2026-03-29","up":0.2495,"lo":0.2385,"m3":0.3023,"m4":0.3946},
{"d":"2026-04-04","up":0.2416,"lo":0.2356,"m3":0.2915,"m4":0.3855},
{"d":"2026-04-10","up":0.2375,"lo":0.2303,"m3":0.2844,"m4":0.377},
{"d":"2026-04-16","up":0.2333,"lo":0.229,"m3":0.2747,"m4":0.3686},
{"d":"2026-04-22","up":0.2321,"lo":0.226,"m3":0.2708,"m4":0.3608},
{"d":"2026-04-28","up":0.2312,"lo":0.2246,"m3":0.2666,"m4":0.3531},
{"d":"2026-05-04","up":0.2321,"lo":0.2238,"m3":0.2621,"m4":0.345},
{"d":"2026-05-10","up":0.2354,"lo":0.2254,"m3":0.2608,"m4":0.3376},
{"d":"2026-05-11","up":0.2373,"lo":0.2269,"m3":0.2612,"m4":0.3369}
]},
"layer":[
{"data":{"values":[{"p":1}]},"mark":{"type":"rule","opacity":0},"encoding":{"y":{"field":"p","type":"quantitative","scale":{"type":"log","domain":[0.07086,1.6376],"nice":false},
"axis":{"orient":"right","offset":-87,"title":null,"values":[1.5,1.35,1.2,1.1,1,0.9,0.8,0.72,0.66,0.6,0.54,0.48,0.44,0.4,0.36,0.33,0.3,0.22,0.2,0.18,0.165,0.15,0.135,0.123,0.111,0.101,0.092,0.0845,0.0775],"format":".4f","labelFont":"Inter","labelFontSize":19,"labelColor":"#1b1d25","labelOverlap":false,"labelBound":false,"labelPadding":0,"ticks":false,"domain":false,"grid":false}}}},
{"data":{"name":"candles"},"mark":{"type":"rule","strokeWidth":1.2},
"encoding":{"x":{"field":"d","type":"temporal","title":null,"scale":{"type":"utc","domain":[1746171648000,1784339712000],"padding":0},
"axis":{"orient":"bottom","offset":-27,"values":[1748736000000,1751328000000,1754006400000,1756684800000,1759276800000,1761955200000,1764547200000,1767225600000,1769904000000,1772323200000,1775001600000,1777593600000,1780272000000],"labelExpr":"time(datum.value)==1767225600000?'2026':utcFormat(datum.value,'%b')","labelFontWeight":{"condition":{"test":"time(datum.value)==1767225600000","value":"bold"},"value":"normal"},"labelFont":"Inter","labelFontSize":19,"labelColor":"#2a2e39","labelOverlap":false,"labelFlush":false,"labelBound":false,"labelPadding":0,"ticks":false,"domain":false,"grid":false}},
"y":{"field":"v","type":"quantitative","scale":{"domain":[-13.94,561.9],"nice":false,"zero":false},"axis":null},"y2":{"datum":0},
"color":{"condition":{"test":"datum.c>=datum.o","value":"#50535d"},"value":"#b46d74"}}},
{"layer":[
{"data":{"values":[{"a":"2025-05-01","b":"2025-09-21T22:00:00Z","top":0.826,"bot":0.79},{"a":"2026-02-06","b":"2026-05-18","top":0.2641,"bot":0.2565}]},"mark":{"type":"rect","color":"#8a8c94","clip":true},
"encoding":{"x":{"field":"a","type":"temporal"},"x2":{"field":"b"},"y":{"field":"top","type":"quantitative","scale":{"type":"log","domain":[0.07086,1.6376],"nice":false},"axis":null},"y2":{"field":"bot"}}},
{"data":{"name":"ma"},"mark":{"type":"area","color":"#ffffff","opacity":0.35,"interpolate":"monotone"},"encoding":{"x":{"field":"d","type":"temporal"},"y":{"field":"up","type":"quantitative","axis":null},"y2":{"field":"lo"}}},
{"data":{"name":"ma"},"mark":{"type":"line","color":"#f4f5f7","strokeWidth":2,"interpolate":"monotone"},"encoding":{"x":{"field":"d","type":"temporal"},"y":{"field":"up","type":"quantitative","axis":null}}},
{"data":{"name":"ma"},"mark":{"type":"line","color":"#f4f5f7","strokeWidth":2,"interpolate":"monotone"},"encoding":{"x":{"field":"d","type":"temporal"},"y":{"field":"lo","type":"quantitative","axis":null}}},
{"data":{"name":"ma"},"mark":{"type":"line","color":"#f4f5f7","strokeWidth":2,"strokeDash":[4,1],"interpolate":"monotone"},"encoding":{"x":{"field":"d","type":"temporal"},"y":{"field":"m3","type":"quantitative","axis":null}}},
{"data":{"name":"ma"},"mark":{"type":"line","color":"#0b0b0e","strokeWidth":2,"interpolate":"monotone"},"encoding":{"x":{"field":"d","type":"temporal"},"y":{"field":"m4","type":"quantitative","axis":null}}},
{"data":{"values":[{"a":"2025-10-10","b":"2026-06-25","p":0.1798}]},"mark":{"type":"rule","color":"#26282f","strokeWidth":1.5,"strokeDash":[2,3]},"encoding":{"x":{"field":"a","type":"temporal"},"x2":{"field":"b"},"y":{"field":"p","type":"quantitative","axis":null}}},
{"data":{"name":"candles"},"mark":{"type":"rule","strokeWidth":1.3},"encoding":{"x":{"field":"d","type":"temporal"},"y":{"field":"h","type":"quantitative","axis":null},"y2":{"field":"l"},"color":{"condition":{"test":"datum.c>=datum.o","value":"#2a2e39"},"value":"#c4403a"}}},
{"data":{"name":"candles"},"mark":{"type":"bar","size":4.4,"orient":"vertical"},"encoding":{"x":{"field":"d","type":"temporal"},"y":{"field":"o","type":"quantitative","axis":null},"y2":{"field":"c"},"color":{"condition":{"test":"datum.c>=datum.o","value":"#2a2e39"},"value":"#c4403a"}}},
{"data":{"values":[{"a":1782878590800,"b":1784101161600,"top":0.345,"bot":0.3285,"kind":"black"},{"a":1782878590800,"b":1784235346200,"top":0.2752,"bot":0.252,"kind":"red"},{"a":1782878590800,"b":1784026614600,"top":0.252,"bot":0.2403,"kind":"white"},{"a":1782878590800,"b":1784071342800,"top":0.2403,"bot":0.2291,"kind":"white"},{"a":1782878590800,"b":1784071342800,"top":0.2291,"bot":0.2182,"kind":"white"},{"a":1782848000000,"b":1784130000000,"top":0.0846,"bot":0.0804,"kind":"black"},{"a":1782938228400,"b":1784309893200,"top":1.634,"bot":1.5206,"kind":"white"},{"a":1746350560800,"b":1747096030800,"top":0.0833,"bot":0.079,"kind":"white"}]},"mark":{"type":"rect","cornerRadius":2},"encoding":{"x":{"field":"a","type":"temporal"},"x2":{"field":"b"},"y":{"field":"top","type":"quantitative","axis":null},"y2":{"field":"bot"},"color":{"field":"kind","type":"nominal","legend":null,"scale":{"domain":["black","red","white"],"range":["#000000","#e8513a","#ffffff"]}}}},
{"data":{"values":[{"a":1746335651400,"b":1747036393200,"top":1.5118,"bot":1.4314}]},"mark":{"type":"rect","fillOpacity":0,"stroke":"#c2c4ca","strokeWidth":1.5,"cornerRadius":4},"encoding":{"x":{"field":"a","type":"temporal"},"x2":{"field":"b"},"y":{"field":"top","type":"quantitative","axis":null},"y2":{"field":"bot"}}},
{"data":{"values":[{"label":"0.2612","t":1783042594200,"p":0.2462},{"label":"0.2373","t":1783042594200,"p":0.2345},{"label":"0.2269","t":1783042594200,"p":0.2234},{"label":"USDT","t":1783027684800,"p":1.575},{"label":"9","t":1746842571000,"p":1.471}]},"mark":{"type":"text","align":"left","baseline":"middle","font":"Inter","fontSize":19,"color":"#1b1d25"},"encoding":{"x":{"field":"t","type":"temporal"},"y":{"field":"p","type":"quantitative","axis":null},"text":{"field":"label"}}},
{"data":{"values":[{"label":"CRVUSDT · 1D · Binance","t":1746797842800,"p":1.578}]},"mark":{"type":"text","align":"left","baseline":"middle","font":"Inter","fontSize":22,"color":"#14161c"},"encoding":{"x":{"field":"t","type":"temporal"},"y":{"field":"p","type":"quantitative","axis":null},"text":{"field":"label"}}},
{"data":{"values":[{"label":"0.3369","t":1783042594200,"p":0.3363},{"label":"0.2691","t":1783042594200,"p":0.2688},{"label":"13.94 M","t":1783042594200,"p":0.0825}]},"mark":{"type":"text","align":"left","baseline":"middle","font":"Inter","fontSize":19,"color":"#ffffff"},"encoding":{"x":{"field":"t","type":"temporal"},"y":{"field":"p","type":"quantitative","axis":null},"text":{"field":"label"}}},
{"data":{"values":[{"label":"12:14:31","t":1783042594200,"p":0.2585}]},"mark":{"type":"text","align":"left","baseline":"middle","font":"Inter","fontSize":19,"color":"#f6b9ab"},"encoding":{"x":{"field":"t","type":"temporal"},"y":{"field":"p","type":"quantitative","axis":null},"text":{"field":"label"}}},
{"data":{"values":[{"t":1746514564200,"p":1.578}]},"mark":{"type":"point","shape":"circle","filled":true,"opacity":1,"size":490,"color":"#f4f4f4"},"encoding":{"x":{"field":"t","type":"temporal"},"y":{"field":"p","type":"quantitative","axis":null}}},
{"data":{"values":[{"t":1746514564200,"p":1.585,"part":"a"},{"t":1746499654800,"p":1.565,"part":"b"},{"t":1746529473600,"p":1.57,"part":"c"}]},"mark":{"type":"point","shape":"circle","filled":true,"opacity":1,"size":110},"encoding":{"x":{"field":"t","type":"temporal"},"y":{"field":"p","type":"quantitative","axis":null},"fill":{"field":"part","type":"nominal","legend":null,"scale":{"domain":["a","b","c"],"range":["#e0483a","#e8b33a","#3fa37a"]}}}},
{"data":{"values":[{"t":1751002293600,"p":1.584}]},"mark":{"type":"point","shape":"M-1,-1L1,-1L0.6,0L1,1L-1,1Z","filled":true,"opacity":1,"size":289,"color":"#3ed0fb"},"encoding":{"x":{"field":"t","type":"temporal"},"y":{"field":"p","type":"quantitative","axis":null}}},
{"data":{"values":[{"t":1746574201800,"p":1.471},{"t":1784160799200,"p":1.575}]},"mark":{"type":"point","shape":"M-1,-0.5L0,0.5L1,-0.5","filled":false,"opacity":1,"size":100,"color":"#1b1d25","strokeWidth":2},"encoding":{"x":{"field":"t","type":"temporal"},"y":{"field":"p","type":"quantitative","axis":null}}},
{"data":{"values":[{"t":1783624060800,"p":0.0734}]},"mark":{"type":"point","shape":"M-0.8,-0.45L0,-0.95L0.8,-0.45L0.8,0.45L0,0.95L-0.8,0.45Z","filled":false,"opacity":1,"size":324,"color":"#2a2e39","strokeWidth":1.5},"encoding":{"x":{"field":"t","type":"temporal"},"y":{"field":"p","type":"quantitative","axis":null}}},
{"data":{"values":[{"t":1783624060800,"p":0.0734}]},"mark":{"type":"point","shape":"circle","filled":false,"opacity":1,"size":40,"color":"#2a2e39","strokeWidth":1.5},"encoding":{"x":{"field":"t","type":"temporal"},"y":{"field":"p","type":"quantitative","axis":null}}},
{"data":{"values":[{"t":1746723295800,"p":0.0812}]},"mark":{"type":"point","shape":"M-0.9,-0.6H0.02V0.6H-0.42V-0.18H-0.9ZM0.08,-0.6H0.32V-0.2H0.08ZM0.42,-0.6H0.92L0.46,0.6H-0.0Z","filled":true,"opacity":1,"size":2300,"color":"#000000"},"encoding":{"x":{"field":"t","type":"temporal"},"y":{"field":"p","type":"quantitative","axis":null}}}
]}
],
"resolve":{"scale":{"y":"independent"}}}
